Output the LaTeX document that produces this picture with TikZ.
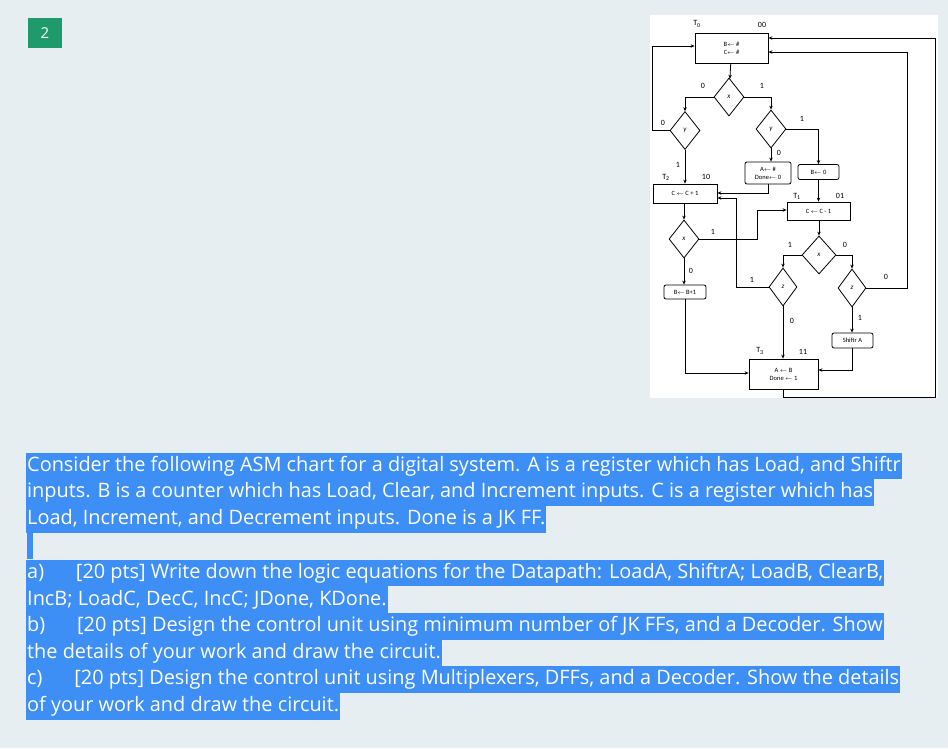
\documentclass[tikz,border=0pt]{standalone}
\usepackage{fontspec}
\setmainfont{Open Sans}
\newfontfamily\chartfont{Carlito}
\usetikzlibrary{shapes.geometric,arrows.meta}
\definecolor{pagebg}{HTML}{E6EEF1}
\definecolor{hl}{HTML}{3D8EF5}
\definecolor{badge}{HTML}{1E9A6C}
\begin{document}
\begin{tikzpicture}[x=1pt,y=-1pt,
  wire/.style={line width=0.8pt,-{Stealth[length=4pt,width=3.5pt]}},
  sbox/.style={draw,line width=0.8pt,minimum width=#1,minimum height=17pt,inner sep=0pt,font=\chartfont\fontsize{6.5}{8}\selectfont,align=center},
  rbox/.style={sbox=#1,rounded corners=2pt,minimum height=15pt},
  dia/.style={draw,diamond,line width=0.8pt,minimum width=#1,minimum height=38pt,inner sep=0pt,aspect=0.75,font=\chartfont\itshape\fontsize{7}{8}\selectfont},
  lbl/.style={font=\chartfont\fontsize{8}{9}\selectfont,inner sep=1pt},
  hlt/.style={fill=hl,text=white,anchor=north west,inner xsep=1pt,inner ysep=0pt,minimum height=26.7pt,font=\fontsize{19.9}{22}\selectfont}]
\useasboundingbox (0,0) rectangle (948,748);
\fill[pagebg] (0,0) rectangle (948,748);
\fill[white] (650,15) rectangle (938,398);
\fill[badge] (28,18) rectangle (62,48);
\node[text=white,font=\fontsize{15}{16}\selectfont] (badge) at (45,33) {2};
% chart
\node[sbox=73pt,minimum height=30pt] (t0) at (731.5,48) {B$\leftarrow$ \#\\C$\leftarrow$ \#};
\node[lbl] (t0l) at (697,24) {T\textsubscript{0}};
\node[lbl] (t0c) at (762,25) {00};
\node[dia=30pt] (dx) at (729,97) {x};
\node[dia=30pt] (dyl) at (685,130.5) {y};
\node[dia=30pt] (dyr) at (771,129) {y};
\node[rbox=46pt,minimum height=22pt] (ad) at (768,173) {A$\leftarrow$ \#\\Done$\leftarrow$ 0};
\node[rbox=41pt] (b0) at (818.5,172) {B$\leftarrow$ 0};
\node[sbox=64pt,minimum height=19pt] (t2) at (685,193.5) {C $\leftarrow$ C + 1};
\node[lbl] (t2l) at (666,177) {T\textsubscript{2}};
\node[lbl] (t2c) at (706,177) {10};
\node[sbox=63pt,minimum height=18pt] (t1) at (818.5,211) {C $\leftarrow$ C - 1};
\node[lbl] (t1l) at (797,196) {T\textsubscript{1}};
\node[lbl] (t1c) at (840,196) {01};
\node[dia=30pt] (dx2) at (684,239) {x};
\node[rbox=42pt,minimum height=14pt] (bb) at (685,292) {B$\leftarrow$ B+1};
\node[dia=34pt] (dx3) at (819,255) {x};
\node[dia=28pt] (dzl) at (783,287) {z};
\node[dia=28pt] (dzr) at (852,288) {z};
\node[rbox=41pt] (sh) at (852.5,340.5) {Shiftr A};
\node[sbox=69pt,minimum height=30pt] (t3) at (783.5,374) {A $\leftarrow$ B\\Done $\leftarrow$ 1};
\node[lbl] (t3l) at (760,351) {T\textsubscript{3}};
\node[lbl] (t3c) at (803,352) {11};
% connectors
\draw[wire] (t0) -- (dx);
\draw[wire] (dx.west) -| (dyl.north);
\draw[wire] (dx.east) -| (dyr.north);
\node[lbl] (l1) at (703,86) {0};
\node[lbl] (l2) at (762,86) {1};
\coordinate (cl) at (652,46);
\draw[wire] (dyl.west) -| (cl) -- (t0.west |- cl);
\node[lbl] (l3) at (663,123) {0};
\draw[wire] (dyl.south) -- (t2.north -| dyl);
\node[lbl] (l4) at (678,165) {1};
\draw[wire] (dyr.south) -- (ad.north -| dyr);
\node[lbl] (l5) at (779,153) {0};
\draw[wire] (dyr.east) -| (b0.north);
\node[lbl] (l6) at (802,119) {1};
\draw[wire] (ad.south) |- (t2.east |- 0,193);
\draw[wire] (b0.south) -- (t1.north -| b0);
\draw[wire] (t2.south -| dx2) -- (dx2.north);
\draw[wire] (dx2.east) -| (757,210) -- (t1.west |- 0,210);
\node[lbl] (l7) at (713,232) {1};
\draw[wire] (dx2.south) -- (bb.north -| dx2);
\node[lbl] (l8) at (691,271) {0};
\draw[wire] (t1.south -| dx3) -- (dx3.north);
\draw[wire] (dx3.west) -| (dzl.north);
\node[lbl] (l9) at (790,245) {1};
\draw[wire] (dx3.east) -| (dzr.north);
\node[lbl] (l10) at (845,245) {0};
\draw[wire] (dzl.west) -| (736,198) -- (t2.east |- 0,198);
\node[lbl] (l11) at (752,280) {1};
\draw[wire] (dzl.south) -- (t3.north -| dzl);
\node[lbl] (l12) at (792,321) {0};
\draw[wire] (dzr.south) -- (sh.north -| dzr);
\node[lbl] (l13) at (860,318) {1};
\draw[wire] (dzr.east) -| (907,52) -- (t0.east |- 0,52);
\node[lbl] (l14) at (886,277) {0};
\draw[wire] (sh.south) |- (t3.east |- 0,370);
\draw[wire] (bb.south) |- (t3.west |- 0,373);
\draw[wire] (t3.south) |- (935,397) -- (935,38) -- (t0.east |- 0,38);
% text
\node[hlt] (p1) at (26,452.5) {Consider the following ASM chart for a digital system. A is a register which has Load, and Shiftr};
\node[hlt] (p2) at (26,479.2) {inputs. B is a counter which has Load, Clear, and Increment inputs. C is a register which has};
\node[hlt] (p3) at (26,505.9) {Load, Increment, and Decrement inputs. Done is a JK FF.};
\fill[hl] (27,532.6) rectangle (33,559.3);
\node[hlt] (p4) at (26,559.3) {a)\hspace{1.6em}[20 pts] Write down the logic equations for the Datapath: LoadA, ShiftrA; LoadB, ClearB,};
\node[hlt] (p5) at (26,586) {IncB; LoadC, DecC, IncC; JDone, KDone.};
\node[hlt] (p6) at (26,612.7) {b)\hspace{1.6em}[20 pts] Design the control unit using minimum number of JK FFs, and a Decoder. Show};
\node[hlt] (p7) at (26,639.4) {the details of your work and draw the circuit.};
\node[hlt] (p8) at (26,666.1) {c)\hspace{1.6em}[20 pts] Design the control unit using Multiplexers, DFFs, and a Decoder. Show the details};
\node[hlt] (p9) at (26,692.8) {of your work and draw the circuit.};
\end{tikzpicture}
\end{document}
